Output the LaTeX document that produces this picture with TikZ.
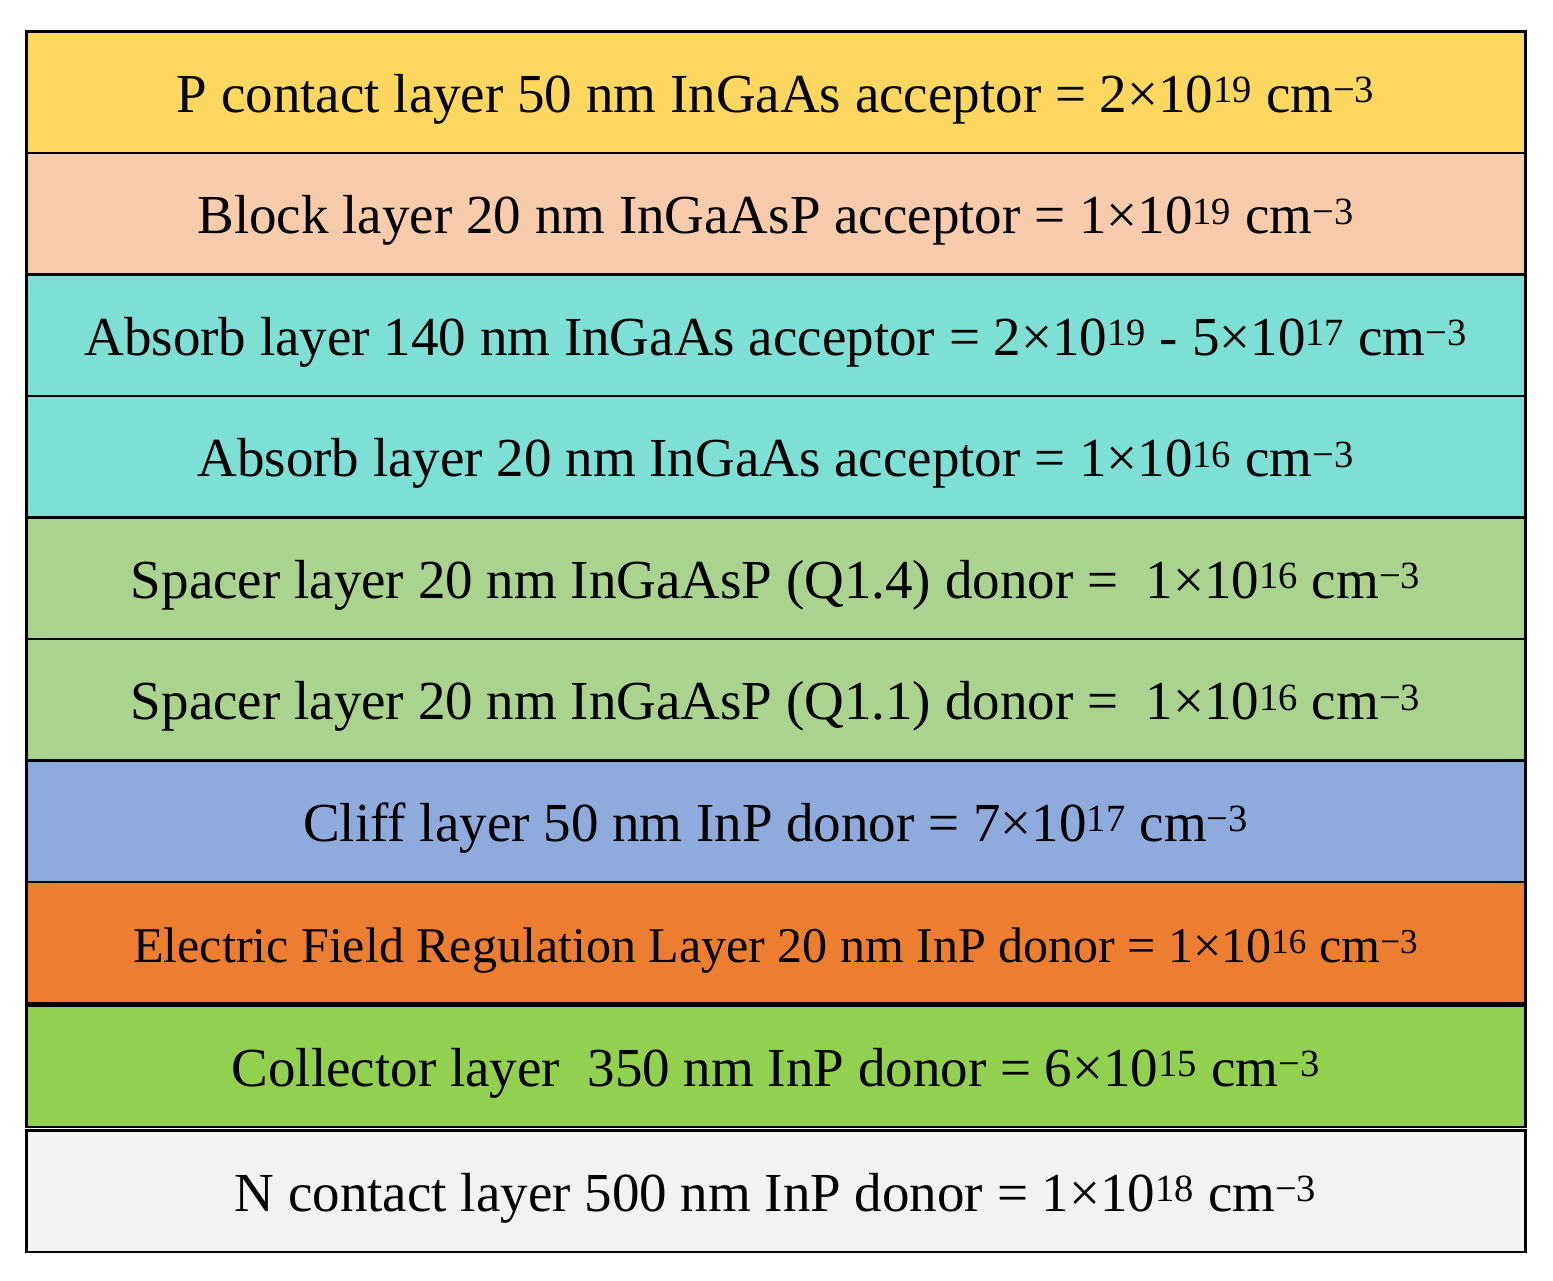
\documentclass[tikz,border=0pt]{standalone}
\usepackage{fontspec}
\setmainfont{Liberation Serif}
\definecolor{cA}{HTML}{FDD760}
\definecolor{cB}{HTML}{F7CBAB}
\definecolor{cC}{HTML}{7EDFD5}
\definecolor{cD}{HTML}{A9D38E}
\definecolor{cE}{HTML}{8FAADC}
\definecolor{cF}{HTML}{ED7D31}
\definecolor{cG}{HTML}{92D050}
\definecolor{cH}{HTML}{F2F2F2}
\newcommand{\sups}[1]{\textsuperscript{#1}}
\begin{document}
\begin{tikzpicture}[x=1pt,y=-1pt,
  layer/.style={draw=black,line width=2.5pt,minimum width=1499pt,minimum height=121.5pt,inner sep=0pt,anchor=north west,font=\fontsize{55}{60}\selectfont,text depth=0pt,yshift=-6pt,text height=40pt}]
\useasboundingbox (0,0) rectangle (1553,1280);
\begin{scope}[yshift=6pt]
\node[layer,fill=cA] (l1) at (25,30) {P contact layer 50 nm InGaAs acceptor = 2×10\sups{19} cm\sups{−3}};
\node[layer,fill=cB] (l2) at (25,151.5) {Block layer 20 nm InGaAsP acceptor = 1×10\sups{19} cm\sups{−3}};
\node[layer,fill=cC] (l3) at (25,273) {Absorb layer 140 nm InGaAs acceptor = 2×10\sups{19} - 5×10\sups{17} cm\sups{−3}};
\node[layer,fill=cC] (l4) at (25,394.5) {Absorb layer 20 nm InGaAs acceptor = 1×10\sups{16} cm\sups{−3}};
\node[layer,fill=cD] (l5) at (25,516) {Spacer layer 20 nm InGaAsP (Q1.4) donor =\ \ 1×10\sups{16} cm\sups{−3}};
\node[layer,fill=cD] (l6) at (25,637.5) {Spacer layer 20 nm InGaAsP (Q1.1) donor =\ \ 1×10\sups{16} cm\sups{−3}};
\node[layer,fill=cE] (l7) at (25,759) {Cliff layer 50 nm InP donor = 7×10\sups{17} cm\sups{−3}};
\node[layer,fill=cF,font=\fontsize{50}{55}\selectfont] (l8) at (25,880.5) {Electric Field Regulation Layer 20 nm InP donor = 1×10\sups{16} cm\sups{−3}};
\node[layer,fill=cG] (l9) at (25,1004) {Collector layer\ \ 350 nm InP donor = 6×10\sups{15} cm\sups{−3}};
\node[layer,fill=cH] (l10) at (25,1129) {N contact layer 500 nm InP donor = 1×10\sups{18} cm\sups{−3}};
\end{scope}
\end{tikzpicture}
\end{document}
